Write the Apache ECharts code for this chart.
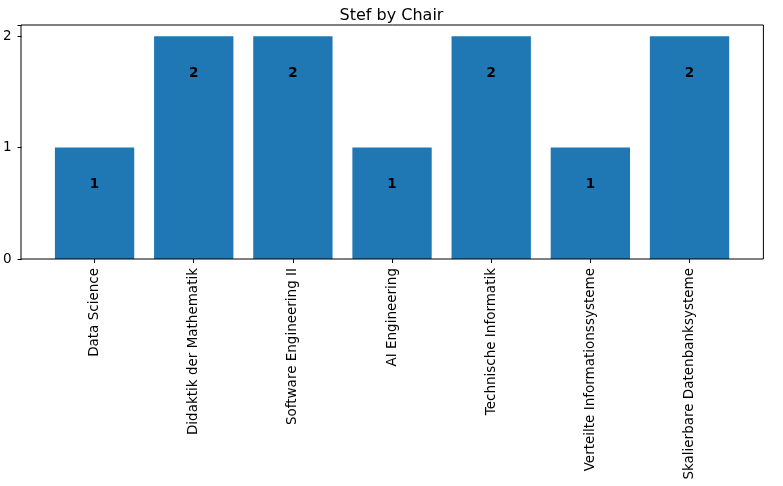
<!DOCTYPE html>
<html>
<head>
<meta charset="utf-8">
<script src="https://cdn.jsdelivr.net/npm/echarts@6/dist/echarts.min.js"></script>
<style>html,body{margin:0;padding:0;background:#fff;}#c{width:783px;height:486px;}</style>
</head>
<body>
<div id="c"></div>
<script>
const categories = ["Data Science","Didaktik der Mathematik","Software Engineering II","AI Engineering","Technische Informatik","Verteilte Informationssysteme","Skalierbare Datenbanksysteme"];
const counts = [1,2,2,1,2,1,2];
const yTicks = [0,1,2];

const FONT = "DejaVu Sans";
const chart = echarts.init(document.getElementById('c'), null, {renderer:'canvas'});
chart.setOption({
  animation:false,
  backgroundColor:'#fff',
  title:{text:'Stef by Chair', left:'center', top:3, textStyle:{fontFamily:FONT, fontSize:16, fontWeight:'normal', color:'#000'}},
  grid:{left:44.4, right:43.9, top:25, bottom:227},
  xAxis:{type:'category', data:categories,
    axisLine:{show:false},
    axisTick:{show:true, alignWithLabel:true, length:4, lineStyle:{color:'#000'}},
    axisLabel:{rotate:90, margin:9, fontFamily:FONT, fontSize:13.5, color:'#000', interval:0}},
  yAxis:{type:'value', min:0, max:2.1, interval:1, offset:23.4,
    axisLine:{show:false},
    axisTick:{show:true, length:4, lineStyle:{color:'#000'}},
    splitLine:{show:false},
    axisLabel:{margin:10, fontFamily:FONT, fontSize:13.5, color:'#000',
      formatter:v => yTicks.includes(v) ? String(v) : ''}},
  series:[{type:'bar', data:counts, barCategoryGap:'20%', itemStyle:{color:'#1f77b4'},
    label:{show:true, position:'insideTop', distance:30, fontFamily:FONT, fontSize:13.5, fontWeight:'bold', color:'#000'}}],
  graphic:[{type:'rect', shape:{x:21, y:25, width:742.4, height:234}, style:{fill:'none', stroke:'#000', lineWidth:1}, z:100, silent:true}]
});
</script>
</body>
</html>
